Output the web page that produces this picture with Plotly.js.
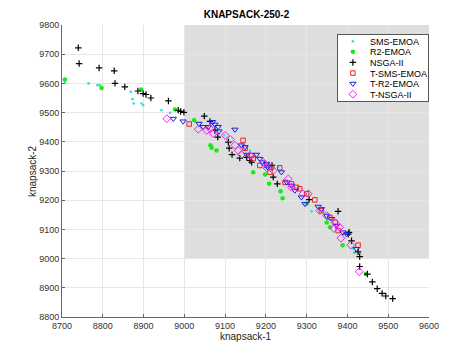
<!DOCTYPE html>
<html>
<head>
<meta charset="utf-8">
<script src="https://cdn.plot.ly/plotly-3.0.1.min.js"></script>
<style>html,body{margin:0;padding:0;background:#fff;}#chart{width:474px;height:355px;}</style>
</head>
<body>
<div id="chart"></div>
<script>
// SMS-EMOA
const smsX = [8707, 8765, 8787, 8793, 8869, 8873, 8876, 8895, 8899, 8944, 8965, 9098, 9161, 9230, 9312, 9414, 9416];
const smsY = [9605, 9600, 9594, 9594, 9571, 9546, 9531, 9531, 9525, 9508, 9499, 9422, 9370, 9313, 9162, 9035, 9020];
// R2-EMOA
const r2X = [8707, 8797, 8894, 8977, 9024, 9064, 9067, 9079, 9169, 9198, 9208, 9236, 9241, 9300, 9349, 9357, 9388, 9445];
const r2Y = [9613, 9584, 9579, 9511, 9474, 9388, 9380, 9370, 9296, 9288, 9256, 9231, 9207, 9189, 9124, 9107, 9046, 8947];
// NSGA-II
const nsgaX = [8740, 8742, 8791, 8828, 8830, 8854, 8886, 8899, 8906, 8918, 8961, 8985, 8991, 8999, 9049, 9063, 9075, 9082, 9108, 9110, 9117, 9136, 9153, 9161, 9165, 9215, 9218, 9228, 9306, 9377, 9402, 9404, 9410, 9426, 9430, 9430, 9449, 9461, 9473, 9485, 9494, 9511];
const nsgaY = [9722, 9668, 9653, 9643, 9600, 9588, 9574, 9565, 9562, 9550, 9540, 9508, 9504, 9501, 9488, 9470, 9439, 9416, 9399, 9378, 9356, 9344, 9347, 9336, 9330, 9319, 9279, 9256, 9202, 9162, 9084, 9090, 9061, 9023, 9007, 8973, 8947, 8920, 8897, 8881, 8872, 8863];
// T-SMS-EMOA
const tsmsX = [9012, 9144, 9149, 9165, 9169, 9185, 9202, 9210, 9214, 9234, 9247, 9263, 9275, 9283, 9300, 9320, 9336, 9357, 9370, 9377, 9426];
const tsmsY = [9461, 9405, 9378, 9353, 9342, 9319, 9319, 9296, 9313, 9311, 9261, 9256, 9244, 9239, 9222, 9201, 9164, 9141, 9124, 9096, 9046];
// T-R2-EMOA
const tr2X = [8973, 8997, 9036, 9046, 9059, 9069, 9075, 9083, 9085, 9124, 9140, 9149, 9153, 9177, 9185, 9191, 9202, 9204, 9238, 9251, 9263, 9271, 9287, 9296, 9328, 9336, 9349, 9361, 9373, 9389, 9398, 9422];
const tr2Y = [9479, 9470, 9462, 9451, 9451, 9468, 9459, 9451, 9436, 9442, 9388, 9382, 9356, 9356, 9342, 9330, 9325, 9313, 9296, 9261, 9250, 9233, 9210, 9187, 9178, 9170, 9147, 9136, 9113, 9090, 9084, 9033];
// T-NSGA-II
const tnsgaX = [8957, 9034, 9055, 9063, 9071, 9100, 9113, 9124, 9132, 9140, 9161, 9193, 9202, 9218, 9255, 9263, 9291, 9304, 9332, 9349, 9369, 9367, 9381, 9384, 9408, 9429];
const tnsgaY = [9479, 9443, 9439, 9445, 9428, 9422, 9408, 9388, 9370, 9356, 9353, 9330, 9311, 9302, 9273, 9244, 9222, 9222, 9164, 9147, 9124, 9103, 9107, 9070, 9046, 8955];

const xTicks = [8700, 8800, 8900, 9000, 9100, 9200, 9300, 9400, 9500, 9600];
const yTicks = [8800, 8900, 9000, 9100, 9200, 9300, 9400, 9500, 9600, 9700, 9800];

const FONT = 'Liberation Sans, Arial, sans-serif';

const traces = [
  {x: smsX, y: smsY, name: 'SMS-EMOA', type: 'scatter', mode: 'markers',
   marker: {symbol: 'circle', size: 2.6, color: '#33dddd'}},
  {x: r2X, y: r2Y, name: 'R2-EMOA', type: 'scatter', mode: 'markers',
   marker: {symbol: 'circle', size: 4.5, color: '#11ee11'}},
  {x: nsgaX, y: nsgaY, name: 'NSGA-II', type: 'scatter', mode: 'markers',
   marker: {symbol: 'cross-thin', size: 4.6, color: '#000', line: {color: '#000', width: 1.2}}},
  {x: tsmsX, y: tsmsY, name: 'T-SMS-EMOA', type: 'scatter', mode: 'markers',
   marker: {symbol: 'square-open', size: 4.5, color: '#ee2222', line: {width: 1}}},
  {x: tr2X, y: tr2Y, name: 'T-R2-EMOA', type: 'scatter', mode: 'markers',
   marker: {symbol: 'triangle-down-open', size: 5.5, color: '#1a1aee', line: {width: 1}}},
  {x: tnsgaX, y: tnsgaY, name: 'T-NSGA-II', type: 'scatter', mode: 'markers',
   marker: {symbol: 'diamond-open', size: 6, color: '#ee22ee', line: {width: 1}}}
];

const axisCommon = {
  showgrid: true, gridcolor: '#e6e6e6', gridwidth: 1,
  zeroline: false, showline: true, linecolor: '#666', linewidth: 1,
  ticks: 'inside', ticklen: 3, tickcolor: '#666', mirror: false,
  tickfont: {family: FONT, size: 9, color: '#333'}
};

const layout = {
  width: 474, height: 355,
  margin: {l: 62, r: 45, t: 25, b: 38, pad: 0},
  paper_bgcolor: '#fff', plot_bgcolor: '#fff',
  title: {text: '<b>KNAPSACK-250-2</b>', x: 0.52, xanchor: 'center', y: 0.958, yanchor: 'middle',
          font: {family: FONT, size: 10, color: '#000'}},
  xaxis: Object.assign({}, axisCommon, {range: [8700, 9600], tickvals: xTicks, ticktext: xTicks.map(String)}),
  yaxis: Object.assign({}, axisCommon, {range: [8800, 9800], tickvals: yTicks, ticktext: yTicks.map(String)}),
  annotations: [
    {text: 'knapsack-1', xref: 'paper', yref: 'paper', x: 0.5, y: 0, xanchor: 'center', yanchor: 'middle',
     yshift: -19, showarrow: false, font: {family: FONT, size: 10, color: '#222'}},
    {text: 'knapsack-2', xref: 'paper', yref: 'paper', x: 0, y: 0.5, xanchor: 'center', yanchor: 'middle',
     xshift: -30, textangle: -90, showarrow: false, font: {family: FONT, size: 10, color: '#222'}}
  ],
  shapes: [{type: 'rect', xref: 'x', yref: 'y', x0: 9000, x1: 9600, y0: 9000, y1: 9800,
            fillcolor: '#dedede', line: {width: 0}, layer: 'below'}],
  showlegend: true,
  legend: {x: 0.749, y: 0.97, xanchor: 'left', yanchor: 'top', bgcolor: '#fff',
           bordercolor: '#555', borderwidth: 1, tracegroupgap: 0, itemwidth: 30,
           font: {family: FONT, size: 9, color: '#000'}}
};

Plotly.newPlot('chart', traces, layout, {displayModeBar: false, staticPlot: true}).then(function (gd) {
  // compact the legend rows to match the reference's tight spacing
  const leg = gd.querySelector('g.legend');
  if (!leg) return;
  const rows = leg.querySelectorAll('g.traces');
  const step = 10.6, top = 7.5;
  rows.forEach(function (r, i) {
    r.setAttribute('transform', 'translate(0,' + (top + i * step) + ')');
    const t = r.querySelector('text.legendtext');
    if (t) t.setAttribute('x', 33);
    r.querySelectorAll('path.scatterpts').forEach(function (p) {
      p.setAttribute('transform', 'translate(16,0)');
    });
  });
  const h = top + (rows.length - 1) * step + 7;
  leg.querySelectorAll('rect.bg').forEach(function (bg) {
    bg.setAttribute('height', h);
    bg.setAttribute('width', 91);
  });
});
</script>
</body>
</html>
